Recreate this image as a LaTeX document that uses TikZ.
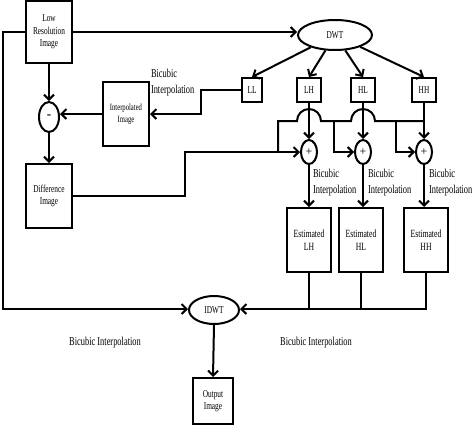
\documentclass[tikz,border=0pt]{standalone}
\usepackage{fontspec}
\setmainfont{Liberation Serif}
\newfontfamily\nf[FakeStretch=0.7]{Liberation Serif}
\usetikzlibrary{arrows.meta,shapes.geometric}
\tikzset{
  every path/.style={line width=2pt},
  box/.style={draw,rectangle,inner sep=1pt,align=center,font=\nf\fontsize{10.5}{12.5}\selectfont},
  ell/.style={draw,ellipse,inner sep=0pt,font=\nf\fontsize{10.5}{12.5}\selectfont},
  pl/.style={ell,minimum width=16,minimum height=24,font=\fontsize{12}{12}\selectfont},
  est/.style={box,minimum width=44,minimum height=64,font=\nf\fontsize{11}{13.5}\selectfont},
  lbl/.style={align=left,inner sep=0pt,font=\nf\fontsize{12}{16.5}\selectfont},
  >={Straight Barb[length=5pt,width=10pt]}
}
\begin{document}
\begin{tikzpicture}[x=1pt,y=-1pt]
\useasboundingbox (0,0) rectangle (474,426);
% nodes
\node[box,minimum width=46,minimum height=62] (lri) at (49,32) {Low\\Resolution\\Image};
\node[ell,minimum width=74,minimum height=30] (dwt) at (335,35) {DWT};
\node[box,minimum width=20,minimum height=24] (ll) at (252,90) {LL};
\node[box,minimum width=24,minimum height=24] (lh) at (309,90) {LH};
\node[box,minimum width=24,minimum height=24] (hl) at (363,90) {HL};
\node[box,minimum width=24,minimum height=24] (hh) at (424,90) {HH};
\node[ell,minimum width=20,minimum height=30,font=\bfseries\fontsize{13}{13}\selectfont] (mn) at (49,117) {-};
\node[box,minimum width=46,minimum height=64,font=\nf\fontsize{9.5}{11.5}\selectfont] (ii) at (126,114) {Interpolated\\Image};
\node[box,minimum width=46,minimum height=64] (di) at (49,196) {Difference\\Image};
\node[pl] (p1) at (309,152) {+};
\node[pl] (p2) at (363,152) {+};
\node[pl] (p3) at (424,152) {+};
\node[est] (elh) at (309,240) {Estimated\\LH};
\node[est] (ehl) at (361,240) {Estimated\\HL};
\node[est] (ehh) at (426,240) {Estimated\\HH};
\node[ell,minimum width=50,minimum height=28] (idwt) at (214,310) {IDWT};
\node[box,minimum width=40,minimum height=46] (out) at (213,401) {Output\\Image};
% labels
\node[lbl,anchor=north west] (l0) at (150,68) {Bicubic\\Interpolation};
\node[lbl,anchor=north west] (l1) at (312,168) {Bicubic\\Interpolation};
\node[lbl,anchor=north west] (l2) at (367,168) {Bicubic\\Interpolation};
\node[lbl,anchor=north west] (l3) at (428,168) {Bicubic\\Interpolation};
\node[lbl] (l4) at (105,343) {Bicubic Interpolation};
\node[lbl] (l5) at (316,343) {Bicubic Interpolation};
% coordinates
\coordinate (lc) at (3,32);
\coordinate (lb) at (3,309);
\coordinate (ja) at (201,90);
\coordinate (jd) at (185,152);
\coordinate (jb) at (278,152);
\coordinate (jt) at (278,121);
\coordinate (h1a) at (297,121);
\coordinate (h2a) at (351,121);
\coordinate (je) at (424,121);
\coordinate (k2) at (334,121);
\coordinate (k3) at (396,121);
% connectors
\draw[->] (lri.east) -- (lri.east -| dwt.west);
\draw[->] (lri.west) -- (lc) -- (lb) -- (idwt.west |- lb);
\draw[->] (dwt) -- (ll.north);
\draw[->] (dwt) -- (lh.north);
\draw[->] (dwt) -- (hl.north);
\draw[->] (dwt) -- (hh.north);
\draw[->] (lri.south) -- (mn.north);
\draw[->] (mn.south) -- (di.north);
\draw[->] (ii.west) -- (mn.east |- ii.west);
\draw[->] (ll.west) -- (ja) |- (ii.east);
\draw[->] (di.east) -| (jd) -- (p1.west);
\draw (jb) -- (jt) -- (h1a) arc[start angle=180,end angle=0,radius=12pt] -- (h2a) arc[start angle=180,end angle=0,radius=12pt] -- (je);
\draw[->] (k2) |- (p2.west);
\draw[->] (k3) |- (p3.west);
\draw[->] (lh.south) -- (p1.north);
\draw[->] (hl.south) -- (p2.north);
\draw[->] (hh.south) -- (p3.north);
\draw[->] (p1.south) -- (p1.south |- elh.north);
\draw[->] (p2.south) -- (p2.south |- ehl.north);
\draw[->] (p3.south) -- (p3.south |- ehh.north);
\draw[->] (ehh.south) |- (idwt.east |- lb);
\draw (elh.south) -- (elh.south |- lb);
\draw (ehl.south) -- (ehl.south |- lb);
\draw[->] (idwt.south) -- (out.north);
\end{tikzpicture}
\end{document}
